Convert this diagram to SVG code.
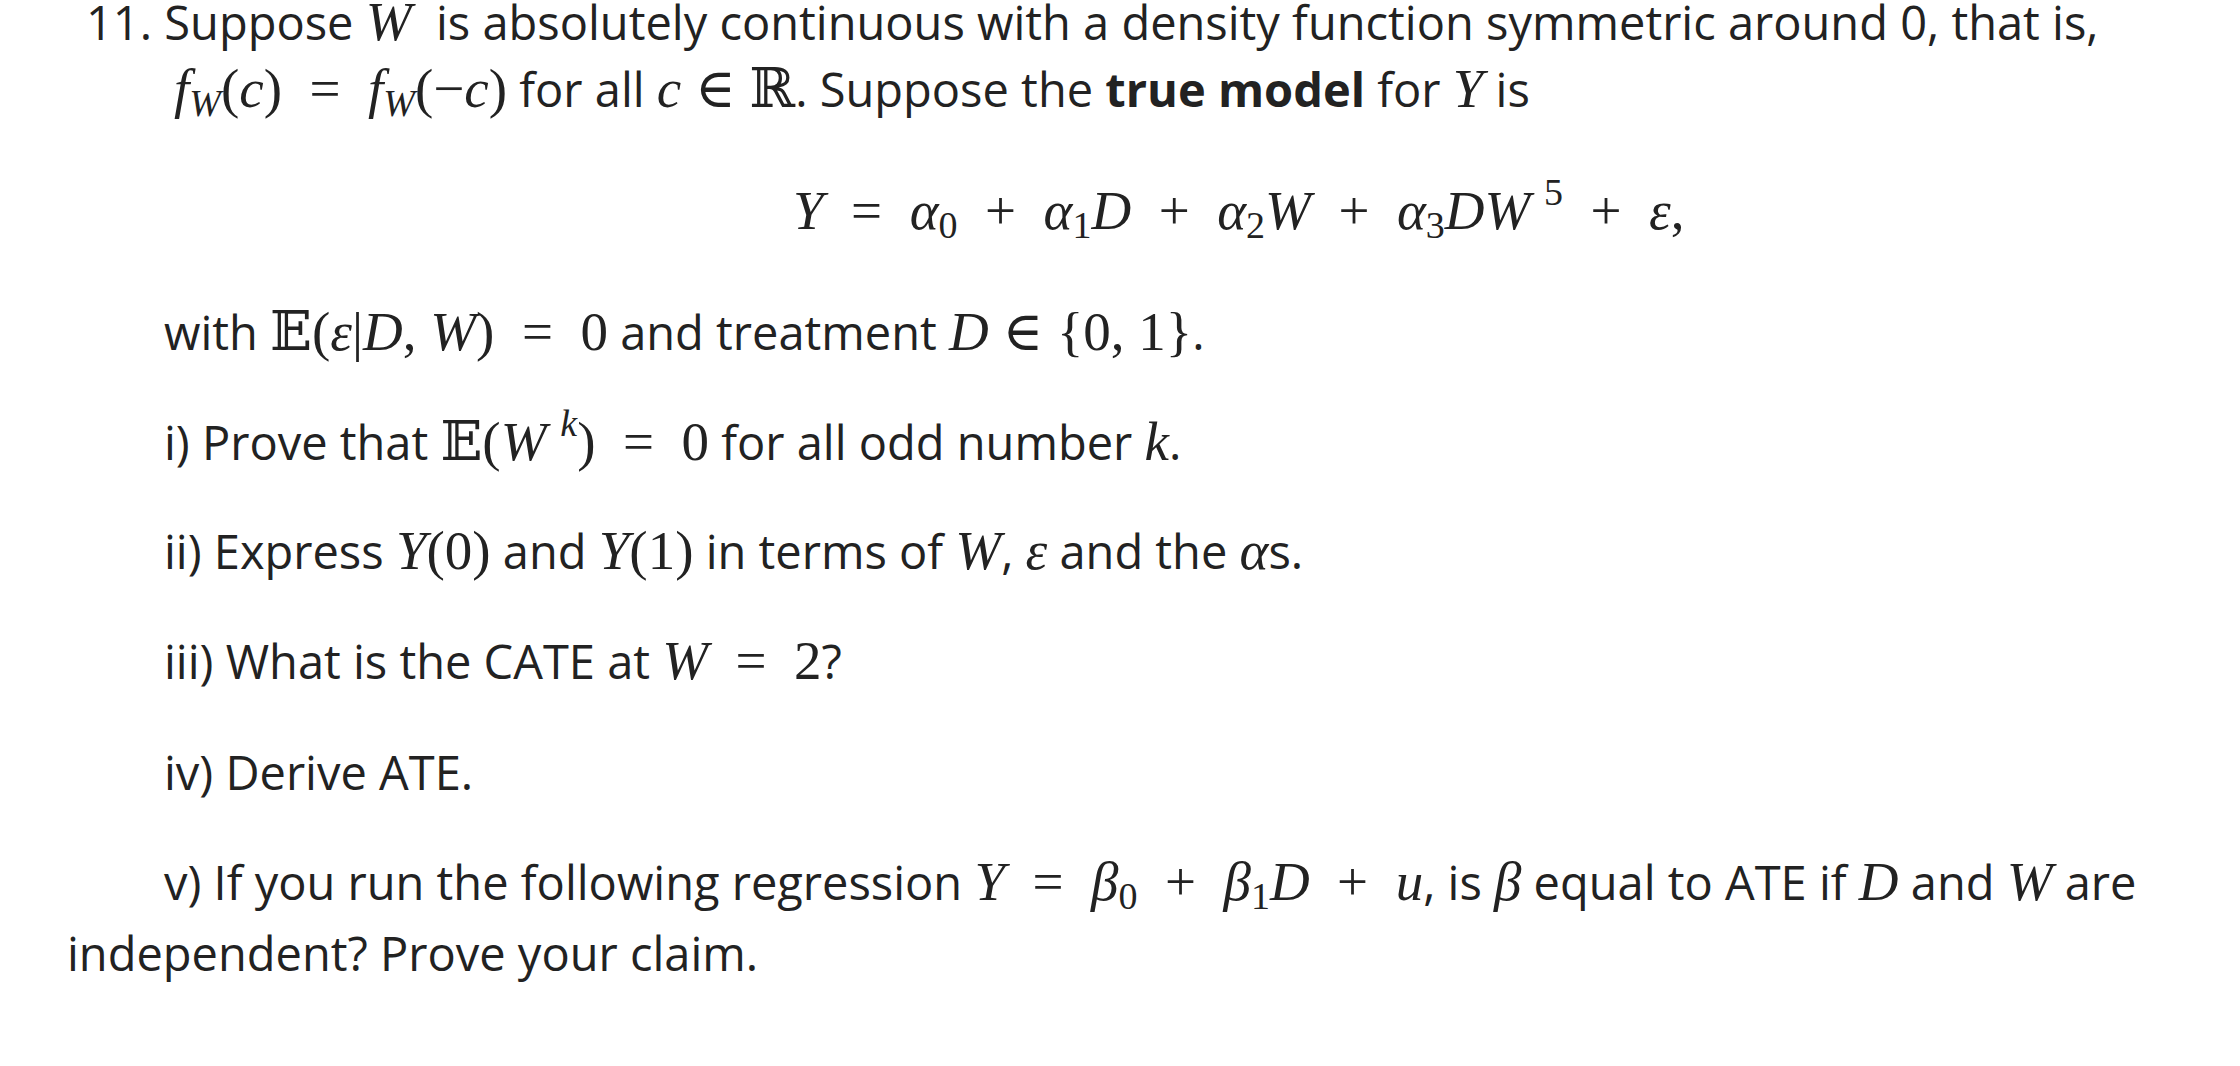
<svg xmlns="http://www.w3.org/2000/svg" width="2240" height="1066" viewBox="0 0 2240 1066">
<style>
text{font-family:"Open Sans","Noto Sans",sans-serif;font-size:47px;fill:#222;white-space:pre}
.m{font-family:"Liberation Serif","DejaVu Serif",serif;font-style:italic;font-size:55px}
.r{font-family:"Liberation Serif","DejaVu Serif",serif;font-style:normal;font-size:55px}
.s{font-size:38px}
.b{font-weight:bold}
</style>
<rect width="2240" height="1066" fill="#fff"/>
<g id="line1"><text x="86" y="40">11. Suppose <tspan class="m">W</tspan>  is absolutely continuous with a density function symmetric around 0, that is,</text></g>
<g id="line2"><text x="174" y="107"><tspan class="m">f</tspan><tspan class="m s" dy="9">W</tspan><tspan class="r" dy="-9">(</tspan><tspan class="m">c</tspan><tspan class="r">)  =  </tspan><tspan class="m">f</tspan><tspan class="m s" dy="9">W</tspan><tspan class="r" dy="-9">(−</tspan><tspan class="m">c</tspan><tspan class="r">)</tspan> for all <tspan class="m">c</tspan><tspan class="r"> ∈ ℝ</tspan>. Suppose the <tspan class="b">true model</tspan> for <tspan class="m">Y</tspan> is</text></g>
<g id="eq"><text x="793" y="229"><tspan class="m">Y</tspan><tspan class="r">  =  </tspan><tspan class="m">α</tspan><tspan class="r s" dy="9">0</tspan><tspan class="r" dy="-9">  +  </tspan><tspan class="m">α</tspan><tspan class="r s" dy="9">1</tspan><tspan class="m" dy="-9">D</tspan><tspan class="r">  +  </tspan><tspan class="m">α</tspan><tspan class="r s" dy="9">2</tspan><tspan class="m" dy="-9">W</tspan><tspan class="r">  +  </tspan><tspan class="m">α</tspan><tspan class="r s" dy="9">3</tspan><tspan class="m" dy="-9">DW </tspan><tspan class="r s" dy="-24">5</tspan><tspan class="r" dy="24">  +  </tspan><tspan class="m">ε</tspan><tspan class="r">,</tspan></text></g>
<g id="line4"><text x="164" y="350">with <tspan class="r">𝔼(</tspan><tspan class="m">ε</tspan><tspan class="r">|</tspan><tspan class="m">D</tspan><tspan class="r">, </tspan><tspan class="m">W</tspan><tspan class="r">)  =  0</tspan> and treatment <tspan class="m">D</tspan><tspan class="r"> ∈ {0, 1}</tspan>.</text></g>
<g id="q1"><text x="164" y="460">i) Prove that <tspan class="r">𝔼(</tspan><tspan class="m">W </tspan><tspan class="m s" dy="-24">k</tspan><tspan class="r" dy="24">)  =  0</tspan> for all odd number <tspan class="m">k</tspan>.</text></g>
<g id="q2"><text x="164" y="569">ii) Express <tspan class="m">Y</tspan><tspan class="r">(0)</tspan> and <tspan class="m">Y</tspan><tspan class="r">(1)</tspan> in terms of <tspan class="m">W</tspan>, <tspan class="m">ε</tspan> and the <tspan class="m">α</tspan>s.</text></g>
<g id="q3"><text x="164" y="679">iii) What is the CATE at <tspan class="m">W</tspan><tspan class="r">  =  2</tspan>?</text></g>
<g id="q4"><text x="164" y="790">iv) Derive ATE.</text></g>
<g id="q5"><text x="164" y="900">v) If you run the following regression <tspan class="m">Y</tspan><tspan class="r">  =  </tspan><tspan class="m">β</tspan><tspan class="r s" dy="9">0</tspan><tspan class="r" dy="-9">  +  </tspan><tspan class="m">β</tspan><tspan class="r s" dy="9">1</tspan><tspan class="m" dy="-9">D</tspan><tspan class="r">  +  </tspan><tspan class="m">u</tspan>, is <tspan class="m">β</tspan> equal to ATE if <tspan class="m">D</tspan> and <tspan class="m">W</tspan> are</text>
<text x="67" y="971">independent? Prove your claim.</text></g>
</svg>
